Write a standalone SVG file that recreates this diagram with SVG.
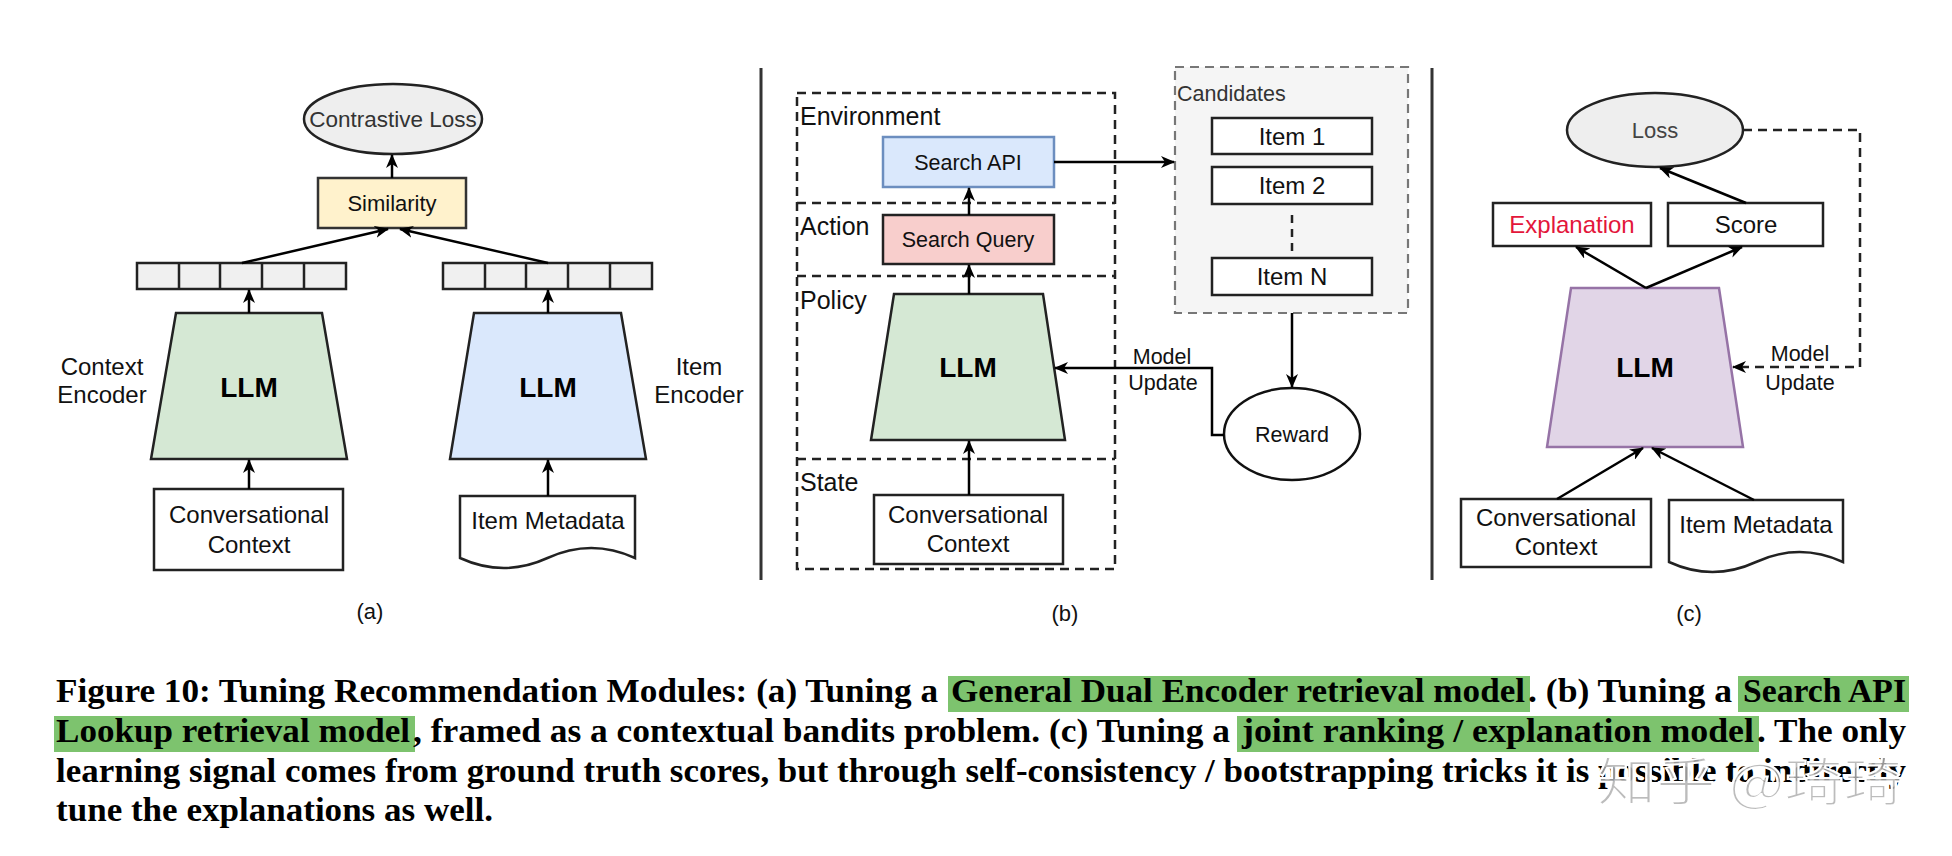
<svg xmlns="http://www.w3.org/2000/svg" width="1952" height="856" viewBox="0 0 1952 856">
<defs>
<marker id="arr" viewBox="0 0 14 12" refX="13" refY="6" markerWidth="14" markerHeight="12" markerUnits="userSpaceOnUse" orient="auto"><path d="M0,0 L14,6 L0,12 L4,6 z" fill="#000"/></marker>
</defs>
<style>
.t{font-family:"Liberation Sans",Arial,sans-serif;fill:#111;}
.s21{font-size:21.5px;}
.s22{font-size:22px;}
.s24{font-size:24px;}
.s25{font-size:25px;}
.llm{font-family:"Liberation Sans",Arial,sans-serif;font-size:28px;font-weight:bold;fill:#000;}
.box{fill:#fff;stroke:#222;stroke-width:2.5;}
.edge{fill:none;stroke:#000;stroke-width:2.5;marker-end:url(#arr);}
.dash{fill:none;stroke:#222;stroke-width:2.5;stroke-dasharray:9 6;}
.cap{font-family:"Liberation Serif","Times New Roman",serif;font-weight:bold;font-size:34px;fill:#000;}
.hl{fill:#7dc36e;}
</style>
<rect width="1952" height="856" fill="#fff"/>

<!-- separators -->
<line x1="761" y1="68" x2="761" y2="580" stroke="#333" stroke-width="3"/>
<line x1="1432" y1="68" x2="1432" y2="580" stroke="#333" stroke-width="3"/>

<!-- ===== Panel (a) ===== -->
<g id="a-loss"><ellipse cx="393" cy="119" rx="89" ry="35" fill="#eeeeee" stroke="#222" stroke-width="2.5"/><text class="t" x="393" y="127" text-anchor="middle" style="fill:#333;font-size:22.5px">Contrastive Loss</text></g>
<g id="a-sim"><rect x="318" y="178" width="148" height="50" fill="#fff2cc" stroke="#333" stroke-width="2.5"/><text class="t s22" x="392" y="211" text-anchor="middle">Similarity</text></g>
<g id="a-vec-left" fill="#f0f0f0" stroke="#222" stroke-width="2.5">
<rect x="137" y="263" width="209" height="26"/>
<line x1="179" y1="263" x2="179" y2="289"/><line x1="220" y1="263" x2="220" y2="289"/><line x1="262" y1="263" x2="262" y2="289"/><line x1="304" y1="263" x2="304" y2="289"/>
</g>
<g id="a-vec-right" fill="#f0f0f0" stroke="#222" stroke-width="2.5">
<rect x="443" y="263" width="209" height="26"/>
<line x1="485" y1="263" x2="485" y2="289"/><line x1="526" y1="263" x2="526" y2="289"/><line x1="568" y1="263" x2="568" y2="289"/><line x1="610" y1="263" x2="610" y2="289"/>
</g>
<g id="a-llm-ctx"><polygon points="176,313 322,313 347,459 151,459" fill="#d5e8d4" stroke="#222" stroke-width="2.5"/><text class="llm" x="249" y="397" text-anchor="middle">LLM</text></g>
<g id="a-llm-item"><polygon points="474,313 621,313 646,459 450,459" fill="#dae8fc" stroke="#222" stroke-width="2.5"/><text class="llm" x="548" y="397" text-anchor="middle">LLM</text></g>
<g id="a-ctx-label"><text class="t s24" x="102" y="375" text-anchor="middle">Context</text><text class="t s24" x="102" y="403" text-anchor="middle">Encoder</text></g>
<g id="a-item-label"><text class="t s24" x="699" y="375" text-anchor="middle">Item</text><text class="t s24" x="699" y="403" text-anchor="middle">Encoder</text></g>
<g id="a-conv"><rect class="box" x="154" y="489" width="189" height="81"/><text class="t s24" x="249" y="523" text-anchor="middle">Conversational</text><text class="t s24" x="249" y="553" text-anchor="middle">Context</text></g>
<g id="a-meta"><path class="box" d="M460,496 H635 V558 Q591.25,538 547.5,558 Q503.75,578 460,558 Z"/><text class="t s24" x="548" y="529" text-anchor="middle">Item Metadata</text></g>
<g id="a-caption"><text class="t s22" x="370" y="619" text-anchor="middle">(a)</text></g>

<!-- ===== Panel (b) ===== -->
<g id="b-regions">
<rect class="dash" x="797" y="93" width="318" height="476"/>
<line class="dash" x1="797" y1="203" x2="1115" y2="203"/>
<line class="dash" x1="797" y1="276" x2="1115" y2="276"/>
<line class="dash" x1="797" y1="459" x2="1115" y2="459"/>
<text class="t s25" x="800" y="125">Environment</text>
<text class="t s25" x="800" y="235">Action</text>
<text class="t s25" x="800" y="309">Policy</text>
<text class="t s25" x="800" y="491">State</text>
</g>
<g id="b-api"><rect x="883" y="137" width="171" height="50" fill="#dae8fc" stroke="#6c8ebf" stroke-width="2.5"/><text class="t s21" x="968" y="170" text-anchor="middle">Search API</text></g>
<g id="b-query"><rect x="883" y="215" width="171" height="49" fill="#f8cecc" stroke="#222" stroke-width="2.5"/><text class="t s21" x="968" y="247" text-anchor="middle">Search Query</text></g>
<g id="b-llm"><polygon points="894,294 1043,294 1065,440 871,440" fill="#d5e8d4" stroke="#222" stroke-width="2.5"/><text class="llm" x="968" y="377" text-anchor="middle">LLM</text></g>
<g id="b-conv"><rect class="box" x="874" y="495" width="189" height="69"/><text class="t s24" x="968" y="523" text-anchor="middle">Conversational</text><text class="t s24" x="968" y="552" text-anchor="middle">Context</text></g>
<g id="b-candidates">
<rect x="1175" y="67" width="233" height="246" fill="#f5f5f5" stroke="#777" stroke-width="2.2" stroke-dasharray="9 6"/>
<text class="t s21" x="1177" y="101" style="fill:#333">Candidates</text>
<rect class="box" x="1212" y="118" width="160" height="36"/><text class="t s24" x="1292" y="145" text-anchor="middle">Item 1</text>
<rect class="box" x="1212" y="167" width="160" height="37"/><text class="t s24" x="1292" y="194" text-anchor="middle">Item 2</text>
<line x1="1292" y1="215" x2="1292" y2="253" stroke="#222" stroke-width="2.5" stroke-dasharray="8 6"/>
<rect class="box" x="1212" y="258" width="160" height="37"/><text class="t s24" x="1292" y="285" text-anchor="middle">Item N</text>
</g>
<g id="b-reward"><ellipse cx="1292" cy="434" rx="68" ry="46" fill="#fff" stroke="#111" stroke-width="2.5"/><text class="t s21" x="1292" y="442" text-anchor="middle">Reward</text></g>
<g id="b-update-label"><text class="t s21" x="1162" y="364" text-anchor="middle">Model</text><text class="t s21" x="1163" y="390" text-anchor="middle">Update</text></g>
<g id="b-caption"><text class="t s22" x="1065" y="621" text-anchor="middle">(b)</text></g>

<!-- ===== Panel (c) ===== -->
<g id="c-loss"><ellipse cx="1655" cy="130" rx="88" ry="37" fill="#eeeeee" stroke="#222" stroke-width="2.5"/><text class="t s22" x="1655" y="138" text-anchor="middle" style="fill:#444">Loss</text></g>
<g id="c-expl"><rect class="box" x="1493" y="203" width="158" height="43"/><text class="t s24" x="1572" y="233" text-anchor="middle" style="fill:#e3163b">Explanation</text></g>
<g id="c-score"><rect class="box" x="1668" y="203" width="155" height="43"/><text class="t s24" x="1746" y="233" text-anchor="middle">Score</text></g>
<g id="c-llm"><polygon points="1571,288 1719,288 1743,447 1547,447" fill="#e1d5e7" stroke="#9673a6" stroke-width="2.5"/><text class="llm" x="1645" y="377" text-anchor="middle">LLM</text></g>
<g id="c-conv"><rect class="box" x="1461" y="499" width="190" height="68"/><text class="t s24" x="1556" y="526" text-anchor="middle">Conversational</text><text class="t s24" x="1556" y="555" text-anchor="middle">Context</text></g>
<g id="c-meta"><path class="box" d="M1669,500 H1843 V562 Q1799.5,542 1756,562 Q1712.5,582 1669,562 Z"/><text class="t s24" x="1756" y="533" text-anchor="middle">Item Metadata</text></g>
<g id="c-update-label"><text class="t s21" x="1800" y="361" text-anchor="middle">Model</text><text class="t s21" x="1800" y="390" text-anchor="middle">Update</text></g>
<g id="c-caption"><text class="t s22" x="1689" y="621" text-anchor="middle">(c)</text></g>

<!-- ===== Connectors ===== -->
<g id="connectors">
<line class="edge" x1="392" y1="178" x2="392" y2="155"/>
<line class="edge" x1="242" y1="263" x2="388" y2="229"/>
<line class="edge" x1="548" y1="263" x2="400" y2="229"/>
<line class="edge" x1="249" y1="313" x2="249" y2="290"/>
<line class="edge" x1="548" y1="313" x2="548" y2="290"/>
<line class="edge" x1="249" y1="489" x2="249" y2="460"/>
<line class="edge" x1="548" y1="496" x2="548" y2="460"/>

<line class="edge" x1="969" y1="495" x2="969" y2="441"/>
<line class="edge" x1="969" y1="294" x2="969" y2="265"/>
<line class="edge" x1="969" y1="215" x2="969" y2="188"/>
<line class="edge" x1="1054" y1="162" x2="1174" y2="162"/>
<line class="edge" x1="1292" y1="313" x2="1292" y2="387"/>
<polyline class="edge" points="1224,435 1212,435 1212,368 1055,368"/>

<line class="edge" x1="1746" y1="203" x2="1660" y2="168"/>
<line class="edge" x1="1646" y1="288" x2="1576" y2="247"/>
<line class="edge" x1="1646" y1="288" x2="1742" y2="247"/>
<line class="edge" x1="1557" y1="499" x2="1643" y2="448"/>
<line class="edge" x1="1754" y1="500" x2="1652" y2="448"/>
<polyline points="1743,130 1860,130 1860,367 1733,367" fill="none" stroke="#222" stroke-width="2.5" stroke-dasharray="9 6" marker-end="url(#arr)"/>
</g>

<!-- ===== Caption ===== -->
<g id="caption">
<rect class="hl" x="948" y="676" width="582" height="36"/>
<rect class="hl" x="1738" y="676" width="171" height="36"/>
<rect class="hl" x="54" y="716" width="361" height="36"/>
<rect class="hl" x="1237" y="716" width="522" height="36"/>
<text class="cap" x="56" y="702" textLength="882" lengthAdjust="spacingAndGlyphs">Figure 10: Tuning Recommendation Modules: (a) Tuning a</text>
<text class="cap" x="951" y="702" textLength="574" lengthAdjust="spacingAndGlyphs">General Dual Encoder retrieval model</text>
<text class="cap" x="1528" y="702" textLength="204" lengthAdjust="spacingAndGlyphs">. (b) Tuning a</text>
<text class="cap" x="1743" y="702" textLength="163" lengthAdjust="spacingAndGlyphs">Search API</text>
<text class="cap" x="56" y="742" textLength="354" lengthAdjust="spacingAndGlyphs">Lookup retrieval model</text>
<text class="cap" x="413" y="742" textLength="817" lengthAdjust="spacingAndGlyphs">, framed as a contextual bandits problem. (c) Tuning a</text>
<text class="cap" x="1242" y="742" textLength="512" lengthAdjust="spacingAndGlyphs">joint ranking / explanation model</text>
<text class="cap" x="1757" y="742" textLength="149" lengthAdjust="spacingAndGlyphs">. The only</text>
<text class="cap" x="56" y="782" textLength="1850" lengthAdjust="spacingAndGlyphs">learning signal comes from ground truth scores, but through self-consistency / bootstrapping tricks it is possible to indirectly</text>
<text class="cap" x="56" y="821" textLength="437" lengthAdjust="spacingAndGlyphs">tune the explanations as well.</text>
<text x="1597" y="801" font-family="'Noto Sans CJK SC','Liberation Sans',sans-serif" font-size="52" fill="#b0b0b0" fill-opacity="0.85" stroke="#ffffff" stroke-width="2" textLength="306" lengthAdjust="spacingAndGlyphs">知乎 @琦琦</text>
</g>
</svg>
